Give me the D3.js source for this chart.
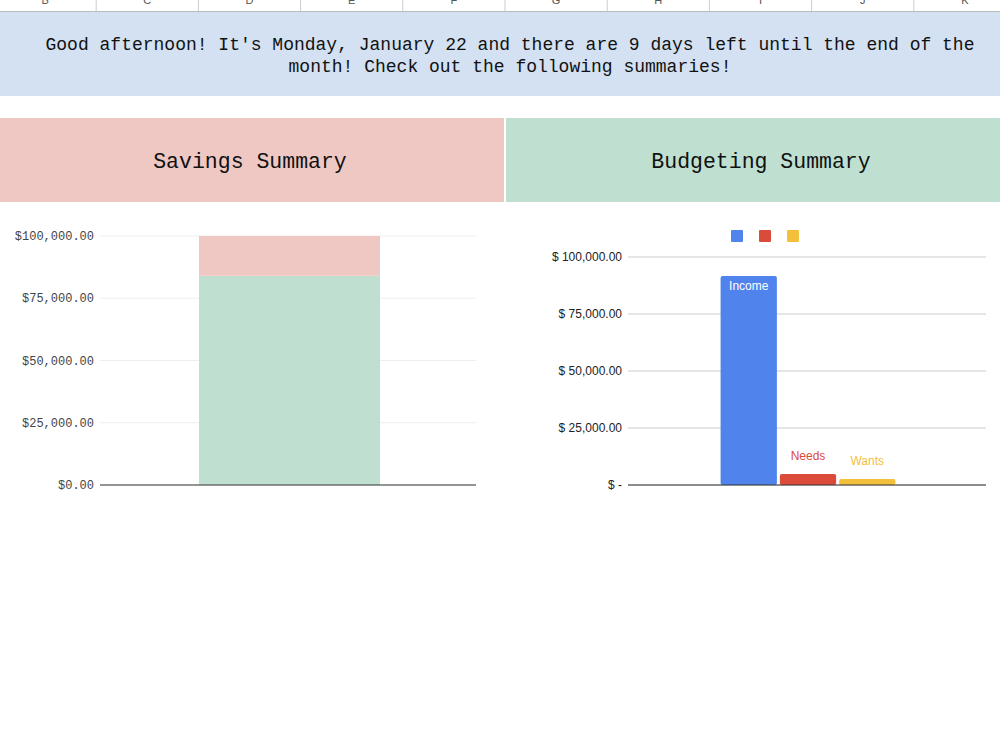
<!DOCTYPE html>
<html><head><meta charset="utf-8">
<script src="https://cdn.jsdelivr.net/npm/d3@7"></script>
<style>body{margin:0;background:#fff;}</style>
</head><body>
<svg id="page" width="1000" height="750"></svg>
<script>
const columnLetters = ['B','C','D','E','F','G','H','I','J','K'];
const greeting = ["Good afternoon! It's Monday, January 22 and there are 9 days left until the end of the", "month! Check out the following summaries!"];

const savingsParts = ['Saved', 'Remaining'];
const savingsValues = [84000, 16000];
const savingsColors = ['#bfe0d0', '#efc8c4'];
const savingsTicks = [0, 25000, 50000, 75000, 100000];

const budgetCats = ['Income', 'Needs', 'Wants'];
const budgetValues = [91700, 4800, 2600];
const budgetColors = ['#5084ec', '#da4b3a', '#f3c03c'];
const budgetTicks = [0, 25000, 50000, 75000, 100000];

const svg = d3.select('#page');
const mono = "'Liberation Mono', 'DejaVu Sans Mono', monospace";

// spreadsheet column header strip (letters cut at top edge as in the sheet)
const colX = d3.scaleLinear().domain([0, 10]).range([-6, 1016]);
columnLetters.forEach(function(c, i){
    svg.append('text').attr('x', (colX(i) + colX(i+1)) / 2).attr('y', 4)
        .attr('text-anchor', 'middle').attr('font-family', 'Arial, sans-serif')
        .attr('font-size', 11).attr('fill', '#555').text(c);
    if (i > 0) svg.append('line').attr('x1', colX(i)).attr('x2', colX(i)).attr('y1', 0).attr('y2', 12).attr('stroke', '#ccc');
});
svg.append('line').attr('x1', 0).attr('x2', 1000).attr('y1', 11.5).attr('y2', 11.5).attr('stroke', '#bbb');

// greeting banner
svg.append('rect').attr('x', 0).attr('y', 12).attr('width', 1000).attr('height', 84).attr('fill', '#d3e1f2');
greeting.forEach(function(t, i){
    svg.append('text').attr('x', 510).attr('y', 50 + i * 22).attr('text-anchor', 'middle')
        .attr('font-family', mono).attr('font-size', 18).attr('fill', '#111').text(t);
});

// section headers
svg.append('rect').attr('x', 0).attr('y', 118).attr('width', 504).attr('height', 84).attr('fill', '#efc8c4');
svg.append('rect').attr('x', 506).attr('y', 118).attr('width', 494).attr('height', 84).attr('fill', '#bfe0d0');
svg.append('text').attr('x', 250).attr('y', 168).attr('text-anchor', 'middle').attr('font-family', mono)
    .attr('font-size', 21.5).attr('fill', '#111').text('Savings Summary');
svg.append('text').attr('x', 761).attr('y', 168).attr('text-anchor', 'middle').attr('font-family', mono)
    .attr('font-size', 21.5).attr('fill', '#111').text('Budgeting Summary');

// savings chart
const sy = d3.scaleLinear().domain([0, 100000]).range([485, 236]);
const sg = svg.append('g');
savingsTicks.forEach(function(t){
    sg.append('line').attr('x1', 100).attr('x2', 476).attr('y1', sy(t)).attr('y2', sy(t))
        .attr('stroke', '#eee');
    sg.append('text').attr('x', 94).attr('y', sy(t) + 4).attr('text-anchor', 'end')
        .attr('font-family', mono).attr('font-size', 12).attr('fill', '#444')
        .text('$' + d3.format(',.2f')(t));
});
const stacked = d3.cumsum(savingsValues);
savingsValues.forEach(function(v, i){
    const top = stacked[i], bottom = top - v;
    sg.append('rect').attr('x', 199).attr('width', 181)
        .attr('y', sy(top)).attr('height', sy(bottom) - sy(top)).attr('fill', savingsColors[i]);
});
sg.append('line').attr('x1', 100).attr('x2', 476).attr('y1', sy(0)).attr('y2', sy(0)).attr('stroke', '#333');

// budgeting chart
const by = d3.scaleLinear().domain([0, 100000]).range([485, 257]);
const bx = d3.scaleBand().domain(budgetCats).range([720, 896]).paddingInner(0.05).paddingOuter(0.01);
const bg = svg.append('g');
budgetTicks.forEach(function(t){
    bg.append('line').attr('x1', 628).attr('x2', 986).attr('y1', by(t)).attr('y2', by(t))
        .attr('stroke', '#ccc');
    bg.append('text').attr('x', 622).attr('y', by(t) + 4).attr('text-anchor', 'end')
        .attr('font-family', 'Arial, sans-serif').attr('font-size', 12).attr('fill', '#222')
        .text(t === 0 ? '$ -' : '$ ' + d3.format(',.2f')(t));
});
budgetCats.forEach(function(c, i){
    bg.append('rect').attr('x', bx(c)).attr('width', bx.bandwidth()).attr('y', by(budgetValues[i]))
        .attr('height', by(0) - by(budgetValues[i])).attr('rx', 2).attr('fill', budgetColors[i]);
    const inside = i === 0;
    bg.append('text').attr('x', bx(c) + bx.bandwidth() / 2)
        .attr('y', inside ? by(budgetValues[i]) + 14 : by(budgetValues[i]) - 14)
        .attr('text-anchor', 'middle').attr('font-family', 'Arial, sans-serif').attr('font-size', 12)
        .attr('fill', inside ? '#fff' : budgetColors[i]).text(c);
    bg.append('rect').attr('x', 731 + i * 28).attr('y', 230).attr('width', 12).attr('height', 12)
        .attr('rx', 1).attr('fill', budgetColors[i]);
});
bg.append('line').attr('x1', 628).attr('x2', 986).attr('y1', by(0)).attr('y2', by(0)).attr('stroke', '#333');
</script>
</body></html>
